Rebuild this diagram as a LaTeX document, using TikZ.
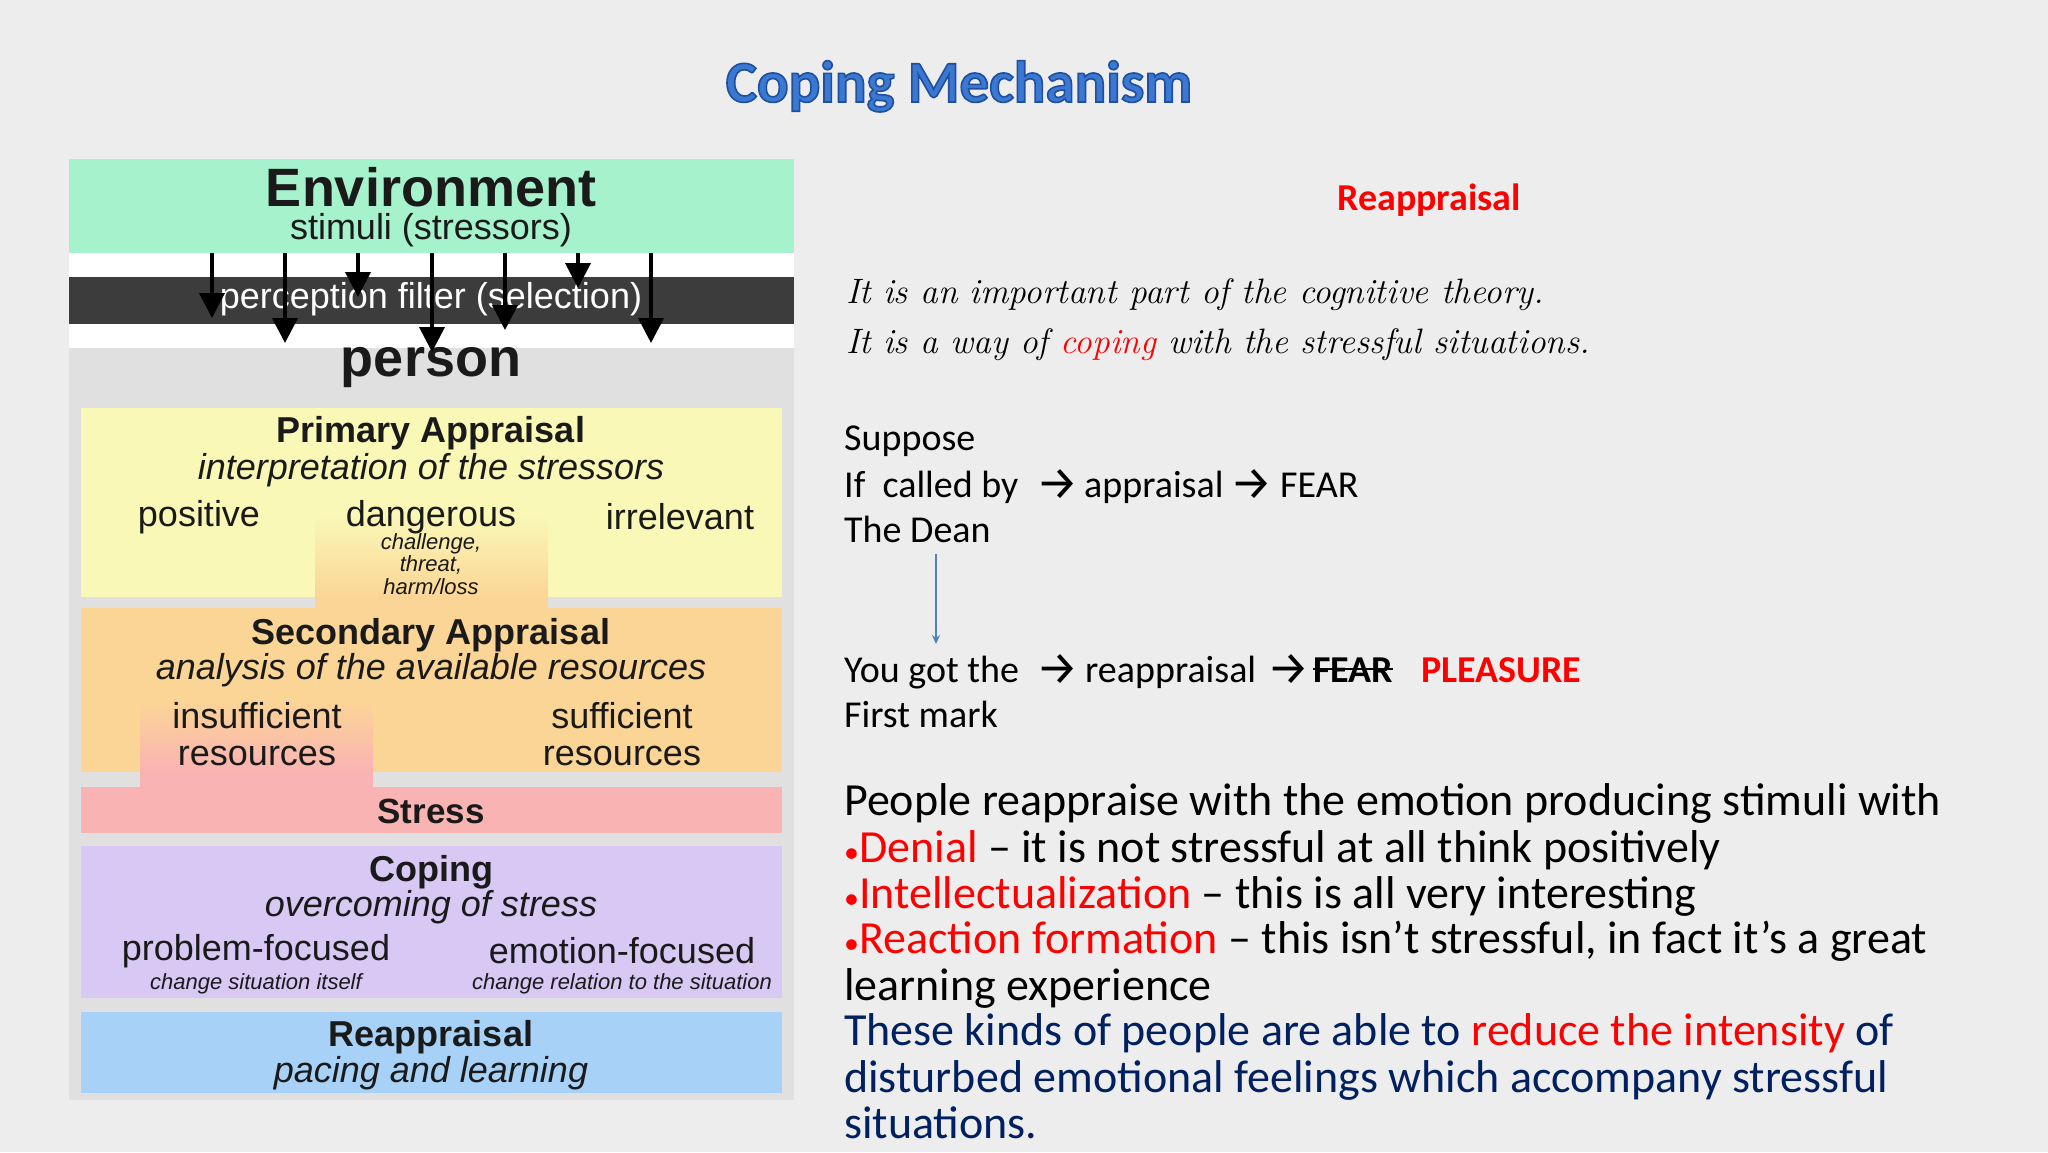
\documentclass[tikz,border=0pt]{standalone}
\usepackage{fontspec}
\usetikzlibrary{arrows.meta,calc}
\newfontfamily\diagf{Liberation Sans}
\newfontfamily\calib{Carlito}
\newfontfamily\symf{Fira Sans}
\newcommand\fsz[1]{\fontsize{#1}{#1}\selectfont}
\definecolor{slidebg}{HTML}{EDEDED}
\definecolor{panelbg}{HTML}{E0E0E0}
\definecolor{envgreen}{HTML}{A6F2CC}
\definecolor{darkband}{HTML}{3C3C3C}
\definecolor{pyellow}{HTML}{FAF8B6}
\definecolor{porange}{HTML}{FBD596}
\definecolor{ppink}{HTML}{FAB3B3}
\definecolor{plav}{HTML}{D7C8F4}
\definecolor{pblue}{HTML}{A7D1F6}
\definecolor{titleblue}{HTML}{3A78D2}
\definecolor{navy}{HTML}{002060}
\definecolor{pptred}{HTML}{FF0000}
\definecolor{arrowblue}{HTML}{4F81BD}
\definecolor{ink}{HTML}{1A1A1A}
\newcommand\redbul{{\fsz{30}•}}
\begin{document}
\begin{tikzpicture}[x=1pt,y=-1pt,
  dt/.style={inner sep=0pt, text=ink, font=\diagf\fsz{36}},
  dtb/.style={dt, font=\diagf\bfseries\fsz{36}},
  dti/.style={dt, font=\diagf\itshape\fsz{36}},
  dts/.style={dt, font=\diagf\itshape\fsz{22}},
  filt/.style={line width=3.8pt, -{Triangle[length=25pt,width=25pt]}},
  rt/.style={inner sep=0pt, anchor=base west, font=\calib\fsz{38}, text=black},
  bt/.style={inner sep=0pt, anchor=base west, font=\calib\fsz{46}, text=black},
  arr/.style={inner sep=0pt, anchor=base west, font=\symf\fsz{47}, text=black},
  it/.style={inner sep=0pt, anchor=base west, font=\rmfamily\itshape\fsz{35.3}, text=black}]
\fill[slidebg] (0,0) rectangle (2048,1152);
\useasboundingbox (0,0) rectangle (2048,1152);
% diagram panel
\fill[panelbg] (69,159) rectangle (794,1100);
\fill[envgreen] (69,159) rectangle (794,253);
\fill[white] (69,253) rectangle (794,348);
\fill[darkband] (69,277) rectangle (794,324);
\fill[pyellow] (81,408) rectangle (782,597);
\shade[top color=pyellow, bottom color=porange] (315,515) rectangle (548,597);
\fill[porange] (315,596) rectangle (548,609);
\fill[porange] (81,608) rectangle (782,772);
\shade[top color=porange, bottom color=ppink] (140,700) rectangle (373,772);
\fill[ppink] (140,771) rectangle (373,788);
\fill[ppink] (81,787) rectangle (782,833);
\fill[plav] (81,846) rectangle (782,998);
\fill[pblue] (81,1012) rectangle (782,1093);
% environment
\node[dtb, font=\diagf\bfseries\fsz{54}] (env) at (431,187) {Environment};
\node[dt] (stim) at (431,230) {stimuli (stressors)};
\node[dt, text=white] (filter) at (431,299) {perception filter (selection)};
\node[dtb, font=\diagf\bfseries\fsz{54}] (person) at (431,368) {person};
% arrows through filter
\coordinate (s1) at (212,253); \coordinate (e1) at (212,318);
\coordinate (s2) at (285,253); \coordinate (e2) at (285,343);
\coordinate (s3) at (358,253); \coordinate (e3) at (358,297);
\coordinate (s4) at (432,253); \coordinate (e4) at (432,352);
\coordinate (s5) at (505,253); \coordinate (e5) at (505,330);
\coordinate (s6) at (578,253); \coordinate (e6) at (578,288);
\coordinate (s7) at (651,253); \coordinate (e7) at (651,343);
\foreach \i in {1,...,7} \draw[filt] (s\i) -- (e\i);
% primary appraisal
\node[dtb] (pa) at (431,433) {Primary Appraisal};
\node[dti] (pai) at (431,470) {interpretation of the stressors};
\node[dt] (pos) at (199,517) {positive};
\node[dt] (dang) at (431,517) {dangerous};
\node[dt] (irr) at (680,517) {irrelevant};
\node[dts] (ch) at (431,544) {challenge,};
\node[dts] (th) at (431,565) {threat,};
\node[dts] (hl) at (431,587) {harm/loss};
% secondary
\node[dtb] (sa) at (431,635) {Secondary Appraisal};
\node[dti] (sai) at (431,670) {analysis of the available resources};
\node[dt] (ins1) at (257,716) {insufficient};
\node[dt] (ins2) at (257,756) {resources};
\node[dt] (suf1) at (622,716) {sufficient};
\node[dt] (suf2) at (622,756) {resources};
% stress
\node[dtb, font=\diagf\bfseries\fsz{35}] (stress) at (431,811) {Stress};
% coping
\node[dtb] (cop) at (431,872) {Coping};
\node[dti] (copi) at (431,907) {overcoming of stress};
\node[dt] (pf) at (256,951) {problem-focused};
\node[dt] (ef) at (622,951) {emotion-focused};
\node[dts] (pfs) at (256,984) {change situation itself};
\node[dts] (efs) at (622,984) {change relation to the situation};
% reappraisal
\node[dtb] (re) at (431,1037) {Reappraisal};
\node[dti] (rei) at (431,1073) {pacing and learning};
% right side
\node[inner sep=0pt, anchor=base, font=\calib\bfseries\fsz{38}, text=pptred] (rhead) at (1429,210) {Reappraisal};
\node[it] (it1) at (846,303) {It is an important part of the cognitive theory.};
\node[it] (it2) at (846,353) {It is a way of {\color{pptred}coping} with the stressful situations.};
\node[rt] (sup) at (844,450) {Suppose};
\node[rt] (call) at (844,497) {If\ \ called by};
\node[arr] (ar1) at (1036,499) {→};
\node[rt] (appr) at (1084,497) {appraisal};
\node[arr] (ar2) at (1230,499) {→};
\node[rt] (fear1) at (1280,497) {FEAR};
\node[rt] (dean) at (844,542) {The Dean};
\coordinate (bas) at (936,554);
\coordinate (bae) at (936,644);
\draw[arrowblue, line width=2.2pt, -{Stealth[length=9pt,width=8pt]}] (bas) -- (bae);
\node[rt] (got) at (844,682) {You got the};
\node[arr] (ar3) at (1036,684) {→};
\node[rt] (reap) at (1085,682) {reappraisal};
\node[arr] (ar4) at (1267,684) {→};
\node[rt, font=\calib\bfseries\fsz{38}] (fear2) at (1313,682) {FEAR};
\draw[line width=2.5pt] ([yshift=13pt]fear2.base west) -- ([yshift=13pt]fear2.base east);
\node[rt, font=\calib\bfseries\fsz{38}, text=pptred] (pleas) at (1421,682) {PLEASURE};
\node[rt] (first) at (844,727) {First mark};
% bottom paragraph
\node[bt] (l1) at (844,815) {People reappraise with the emotion producing stimuli with};
\node[bt] (l2) at (844,862) {{\color{pptred}\redbul Denial} – it is not stressful at all think positively};
\node[bt] (l3) at (844,908) {{\color{pptred}\redbul Intellectualization} – this is all very interesting};
\node[bt] (l4) at (844,953) {{\color{pptred}\redbul Reaction formation} – this isn’t stressful, in fact it’s a great};
\node[bt] (l5) at (844,1000) {learning experience};
\node[bt, text=navy] (l6) at (844,1045) {These kinds of people are able to {\color{pptred}reduce the intensity} of};
\node[bt, text=navy] (l7) at (844,1092) {disturbed emotional feelings which accompany stressful};
\node[bt, text=navy] (l8) at (844,1138) {situations.};
% title (outlined)
\node[inner sep=0pt, anchor=base, font=\calib\bfseries\fsz{59}, text=titleblue] (title) at (959,102)
  {\special{pdf:literal direct 2 Tr 1.6 w 0.12 0.31 0.62 RG}Coping Mechanism\special{pdf:literal direct 0 Tr 0 G}};
\end{tikzpicture}
\end{document}
